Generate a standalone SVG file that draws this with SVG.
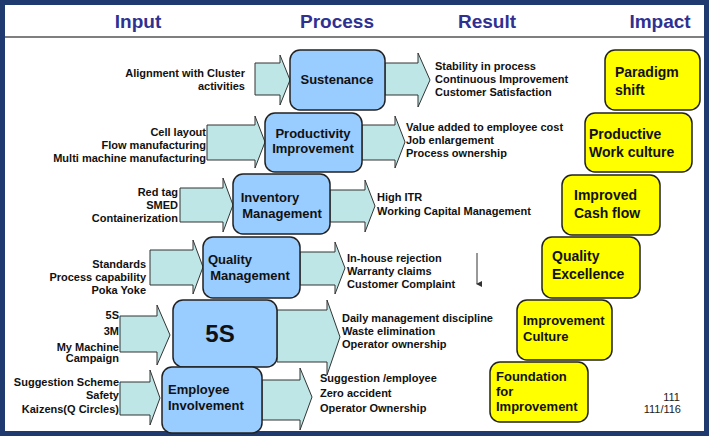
<svg xmlns="http://www.w3.org/2000/svg" width="709" height="436" viewBox="0 0 709 436">
<style>
.h{font-family:"Liberation Sans",Arial,sans-serif;font-weight:bold;font-size:19px;fill:#2e3192}
.t{font-family:"Liberation Sans",Arial,sans-serif;font-weight:bold;font-size:11px;fill:#111}
.b{font-family:"Liberation Sans",Arial,sans-serif;font-weight:bold;font-size:13px;fill:#111}
.y{font-family:"Liberation Sans",Arial,sans-serif;font-weight:bold;font-size:14px;fill:#111}
.z{font-family:"Liberation Sans",Arial,sans-serif;font-weight:bold;font-size:13px;fill:#111}
.p{fill:#99ccff;stroke:#222;stroke-width:1.5}
.q{fill:#ffff00;stroke:#222;stroke-width:1.5}
.a{fill:#bfe6e6;stroke:#333;stroke-width:1}
</style>
<defs><marker id="m" markerWidth="6" markerHeight="6" refX="3" refY="5" orient="auto"><path d="M0,0 L6,0 L3,6 Z" fill="#333"/></marker></defs>
<rect x="0" y="0" width="709" height="436" fill="#1f3a6e"/>
<rect x="5" y="5" width="699" height="426" fill="#fff"/>
<line x1="5" y1="37" x2="704" y2="37" stroke="#555" stroke-width="1.5"/>
<text class="h" x="138" y="28" text-anchor="middle">Input</text>
<text class="h" x="337" y="28" text-anchor="middle">Process</text>
<text class="h" x="487" y="28" text-anchor="middle">Result</text>
<text class="h" x="660" y="28" text-anchor="middle">Impact</text>
<g id="connectors">
<path class="a" d="M255,63 H280 V55 L290,80 L280,105 V95 H255 Z"/>
<path class="a" d="M207,125 H255 V116 L265,142 L255,168 V160 H207 Z"/>
<path class="a" d="M180,188 H223 V178 L233,205 L223,232 V222 H180 Z"/>
<path class="a" d="M150,250 H193 V240 L203,267 L193,294 V285 H150 Z"/>
<path class="a" d="M120,316 H157 V305 L170,335 L157,365 V352 H120 Z"/>
<path class="a" d="M120,382 H150 V370 L160,398 L150,425 V415 H120 Z"/>
<path class="a" d="M385,63 H418 V53 L430,80 L418,107 V95 H385 Z"/>
<path class="a" d="M362,125 H395 V116 L405,142 L395,168 V160 H362 Z"/>
<path class="a" d="M330,190 H365 V180 L375,206 L365,232 V222 H330 Z"/>
<path class="a" d="M300,252 H335 V242 L345,268 L335,294 V285 H300 Z"/>
<path class="a" d="M277,310 H327 V300 L340,337 L327,375 V362 H277 Z"/>
<path class="a" d="M262,380 H300 V368 L312,397 L300,430 V420 H262 Z"/>
<line x1="477" y1="253" x2="477" y2="284" stroke="#333" stroke-width="1" marker-end="url(#m)"/>
</g>
<g id="sustenance"><rect class="p" x="290" y="50" width="95" height="60" rx="10"/><text class="b" x="337" y="84" text-anchor="middle">Sustenance</text></g>
<g id="productivity"><rect class="p" x="265" y="113" width="97" height="59" rx="10"/><text class="b" x="313" y="138" text-anchor="middle">Productivity</text><text class="b" x="313" y="153" text-anchor="middle">Improvement</text></g>
<g id="inventory"><rect class="p" x="233" y="174" width="97" height="60" rx="10"/><text class="b" x="270" y="202" text-anchor="middle">Inventory</text><text class="b" x="282" y="218" text-anchor="middle">Management</text></g>
<g id="quality"><rect class="p" x="203" y="237" width="97" height="61" rx="10"/><text class="b" x="230" y="264" text-anchor="middle">Quality</text><text class="b" x="250" y="280" text-anchor="middle">Management</text></g>
<g id="fives"><rect class="p" x="173" y="300" width="104" height="67" rx="10"/><text x="220" y="342" text-anchor="middle" font-family="Liberation Sans,Arial,sans-serif" font-weight="bold" font-size="24" fill="#111">5S</text></g>
<g id="employee"><rect class="p" x="162" y="367" width="100" height="66" rx="10"/><text class="b" x="168" y="394">Employee</text><text class="b" x="168" y="410">Involvement</text></g>
<g id="paradigm"><rect class="q" x="605" y="50" width="95" height="60" rx="10"/><text class="y" x="615" y="77">Paradigm</text><text class="y" x="615" y="95">shift</text></g>
<g id="productive"><rect class="q" x="585" y="113" width="107" height="59" rx="10"/><text class="y" x="589" y="139">Productive</text><text class="y" x="589" y="157">Work culture</text></g>
<g id="cash"><rect class="q" x="562" y="175" width="98" height="60" rx="10"/><text class="y" x="574" y="200">Improved</text><text class="y" x="574" y="218">Cash flow</text></g>
<g id="excellence"><rect class="q" x="542" y="237" width="98" height="61" rx="10"/><text class="y" x="552" y="261">Quality</text><text class="y" x="552" y="279">Excellence</text></g>
<g id="culture"><rect class="q" x="517" y="300" width="95" height="60" rx="10"/><text class="z" x="523" y="325">Improvement</text><text class="z" x="523" y="341">Culture</text></g>
<g id="foundation"><rect class="q" x="490" y="362" width="98" height="60" rx="10"/><text class="z" x="496" y="381">Foundation</text><text class="z" x="496" y="396">for</text><text class="z" x="496" y="411">Improvement</text></g>
<g id="texts">
<text class="t" x="245" y="77" text-anchor="end">Alignment  with Cluster</text>
<text class="t" x="245" y="90" text-anchor="end">activities</text>
<text class="t" x="206" y="136" text-anchor="end">Cell layout</text>
<text class="t" x="206" y="149" text-anchor="end">Flow manufacturing</text>
<text class="t" x="206" y="162" text-anchor="end">Multi machine manufacturing</text>
<text class="t" x="178" y="196" text-anchor="end">Red tag</text>
<text class="t" x="178" y="209" text-anchor="end">SMED</text>
<text class="t" x="178" y="222" text-anchor="end">Containerization</text>
<text class="t" x="146" y="268" text-anchor="end">Standards</text>
<text class="t" x="146" y="281" text-anchor="end">Process capability</text>
<text class="t" x="146" y="294" text-anchor="end">Poka Yoke</text>
<text class="t" x="119" y="319" text-anchor="end">5S</text>
<text class="t" x="119" y="335" text-anchor="end">3M</text>
<text class="t" x="119" y="351" text-anchor="end">My Machine</text>
<text class="t" x="119" y="362" text-anchor="end">Campaign</text>
<text class="t" x="119" y="386" text-anchor="end">Suggestion Scheme</text>
<text class="t" x="119" y="399" text-anchor="end">Safety</text>
<text class="t" x="119" y="413" text-anchor="end">Kaizens(Q Circles)</text>
<text class="t" x="435" y="70">Stability in process</text>
<text class="t" x="435" y="83">Continuous Improvement</text>
<text class="t" x="435" y="96">Customer Satisfaction</text>
<text class="t" x="406" y="131">Value added to employee cost</text>
<text class="t" x="406" y="144">Job enlargement</text>
<text class="t" x="406" y="157">Process ownership</text>
<text class="t" x="377" y="201">High  ITR</text>
<text class="t" x="377" y="215">Working Capital Management</text>
<text class="t" x="347" y="262">In-house rejection</text>
<text class="t" x="347" y="275">Warranty claims</text>
<text class="t" x="347" y="288">Customer Complaint</text>
<text class="t" x="342" y="322">Daily management discipline</text>
<text class="t" x="342" y="335">Waste elimination</text>
<text class="t" x="342" y="348">Operator ownership</text>
<text class="t" x="320" y="382">Suggestion /employee</text>
<text class="t" x="320" y="397">Zero accident</text>
<text class="t" x="320" y="412">Operator Ownership</text>
<text x="680" y="401" text-anchor="end" font-family="Liberation Sans,Arial,sans-serif" font-size="11" fill="#222">111</text>
<text x="681" y="413" text-anchor="end" font-family="Liberation Sans,Arial,sans-serif" font-size="11" fill="#222">111/116</text>
</g>
</svg>
